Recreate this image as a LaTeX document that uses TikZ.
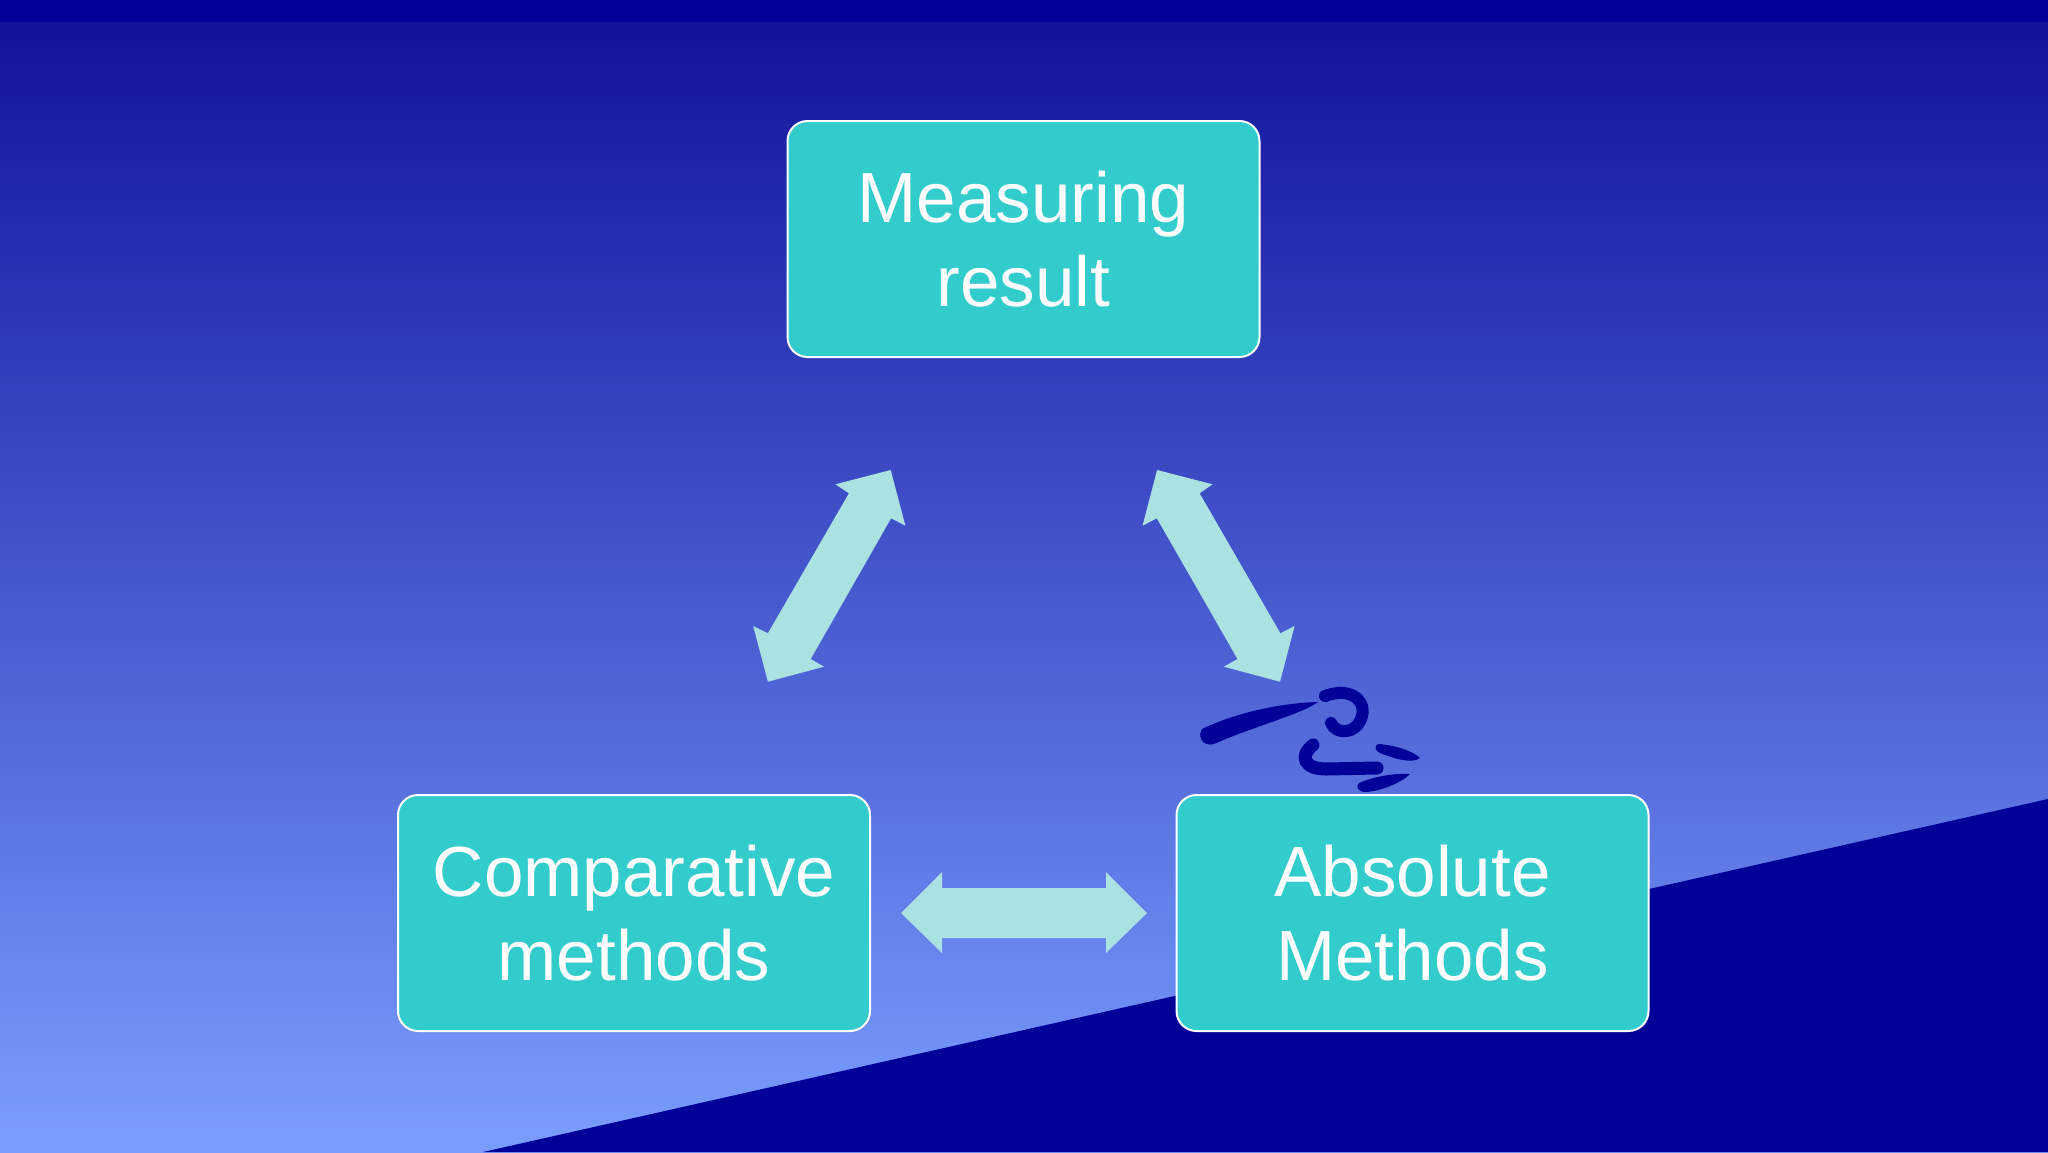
\documentclass[tikz,border=0pt]{standalone}
\usepackage{fontspec}
\setmainfont{Liberation Sans}
\begin{document}
\begin{tikzpicture}[x=1pt,y=-1pt,
  box/.style={draw=white, line width=2pt, fill=boxcol, rounded corners=20pt,
    minimum width=472pt, minimum height=236pt, text=white, align=center,
    font=\fontsize{71}{84}\selectfont, inner sep=0pt},
  blockarrow/.style={fill=arrowcol, draw=none},
  ink/.style={fill=inkblue, draw=none}]
\definecolor{boxcol}{HTML}{33CCCC}
\definecolor{arrowcol}{HTML}{AAE2E2}
\definecolor{inkblue}{HTML}{000099}
\definecolor{bgtop}{HTML}{10109A}
\definecolor{bgbot}{HTML}{7A9EFF}
\useasboundingbox (0,0) rectangle (2048,1152);
% background
\fill[top color=bgtop, bottom color=bgbot] (0,0) rectangle (2048,1152);
\fill[inkblue] (0,0) rectangle (2048,22);
\fill[inkblue] (483,1152) -- (2048,799) -- (2048,1152) -- cycle;
% boxes
\node[box] (meas) at (1023.5,239) {Measuring\\result};
\node[box] (comp) at (634,913) {Comparative\\methods};
\node[box] (abs) at (1412.5,913) {Absolute\\Methods};
% block arrows
\path[blockarrow] (890.7,470) -- (905.4,525.7) -- (891.1,518.3) -- (810.7,659) -- (823.9,666.7)
  -- (767.9,681.7) -- (753.2,626) -- (767.9,633.3) -- (848.9,493.3) -- (835.4,484.3) -- cycle;
\path[blockarrow] (1157.1,470) -- (1212.5,484.3) -- (1199.6,493.3) -- (1280.4,633.3) -- (1294.6,626)
  -- (1280,681.7) -- (1223.9,666.7) -- (1237.5,659) -- (1156.8,518.3) -- (1142.5,525.7) -- cycle;
\path[blockarrow] (901,913) -- (942,872) -- (942,888) -- (1106,888) -- (1106,872)
  -- (1147,913) -- (1106,953) -- (1106,938) -- (942,938) -- (942,953) -- cycle;
% handwritten scribble
\path[ink] (1202,729) .. controls (1235,713) and (1280,703) .. (1318,702)
  .. controls (1302,714) and (1252,727) .. (1214,744)
  .. controls (1203,747) and (1197,737) .. cycle;
\draw[inkblue, line width=12pt, line cap=round] (1325,696)
  .. controls (1352,686) and (1368,702) .. (1361,719)
  .. controls (1356,733) and (1337,736) .. (1331,723);
\draw[inkblue, line width=13pt, line cap=round] (1313,745)
  .. controls (1299,756) and (1304,769) .. (1326,769) -- (1377,768);
\path[ink] (1378,744) .. controls (1395,745) and (1413,751) .. (1420,758)
  .. controls (1412,764) and (1395,759) .. (1380,753) .. controls (1375,751) and (1374,746) .. cycle;
\path[ink] (1359,783) .. controls (1375,776) and (1396,773) .. (1410,774)
  .. controls (1401,783) and (1381,791) .. (1366,792) .. controls (1358,792) and (1355,787) .. cycle;
\end{tikzpicture}
\end{document}
